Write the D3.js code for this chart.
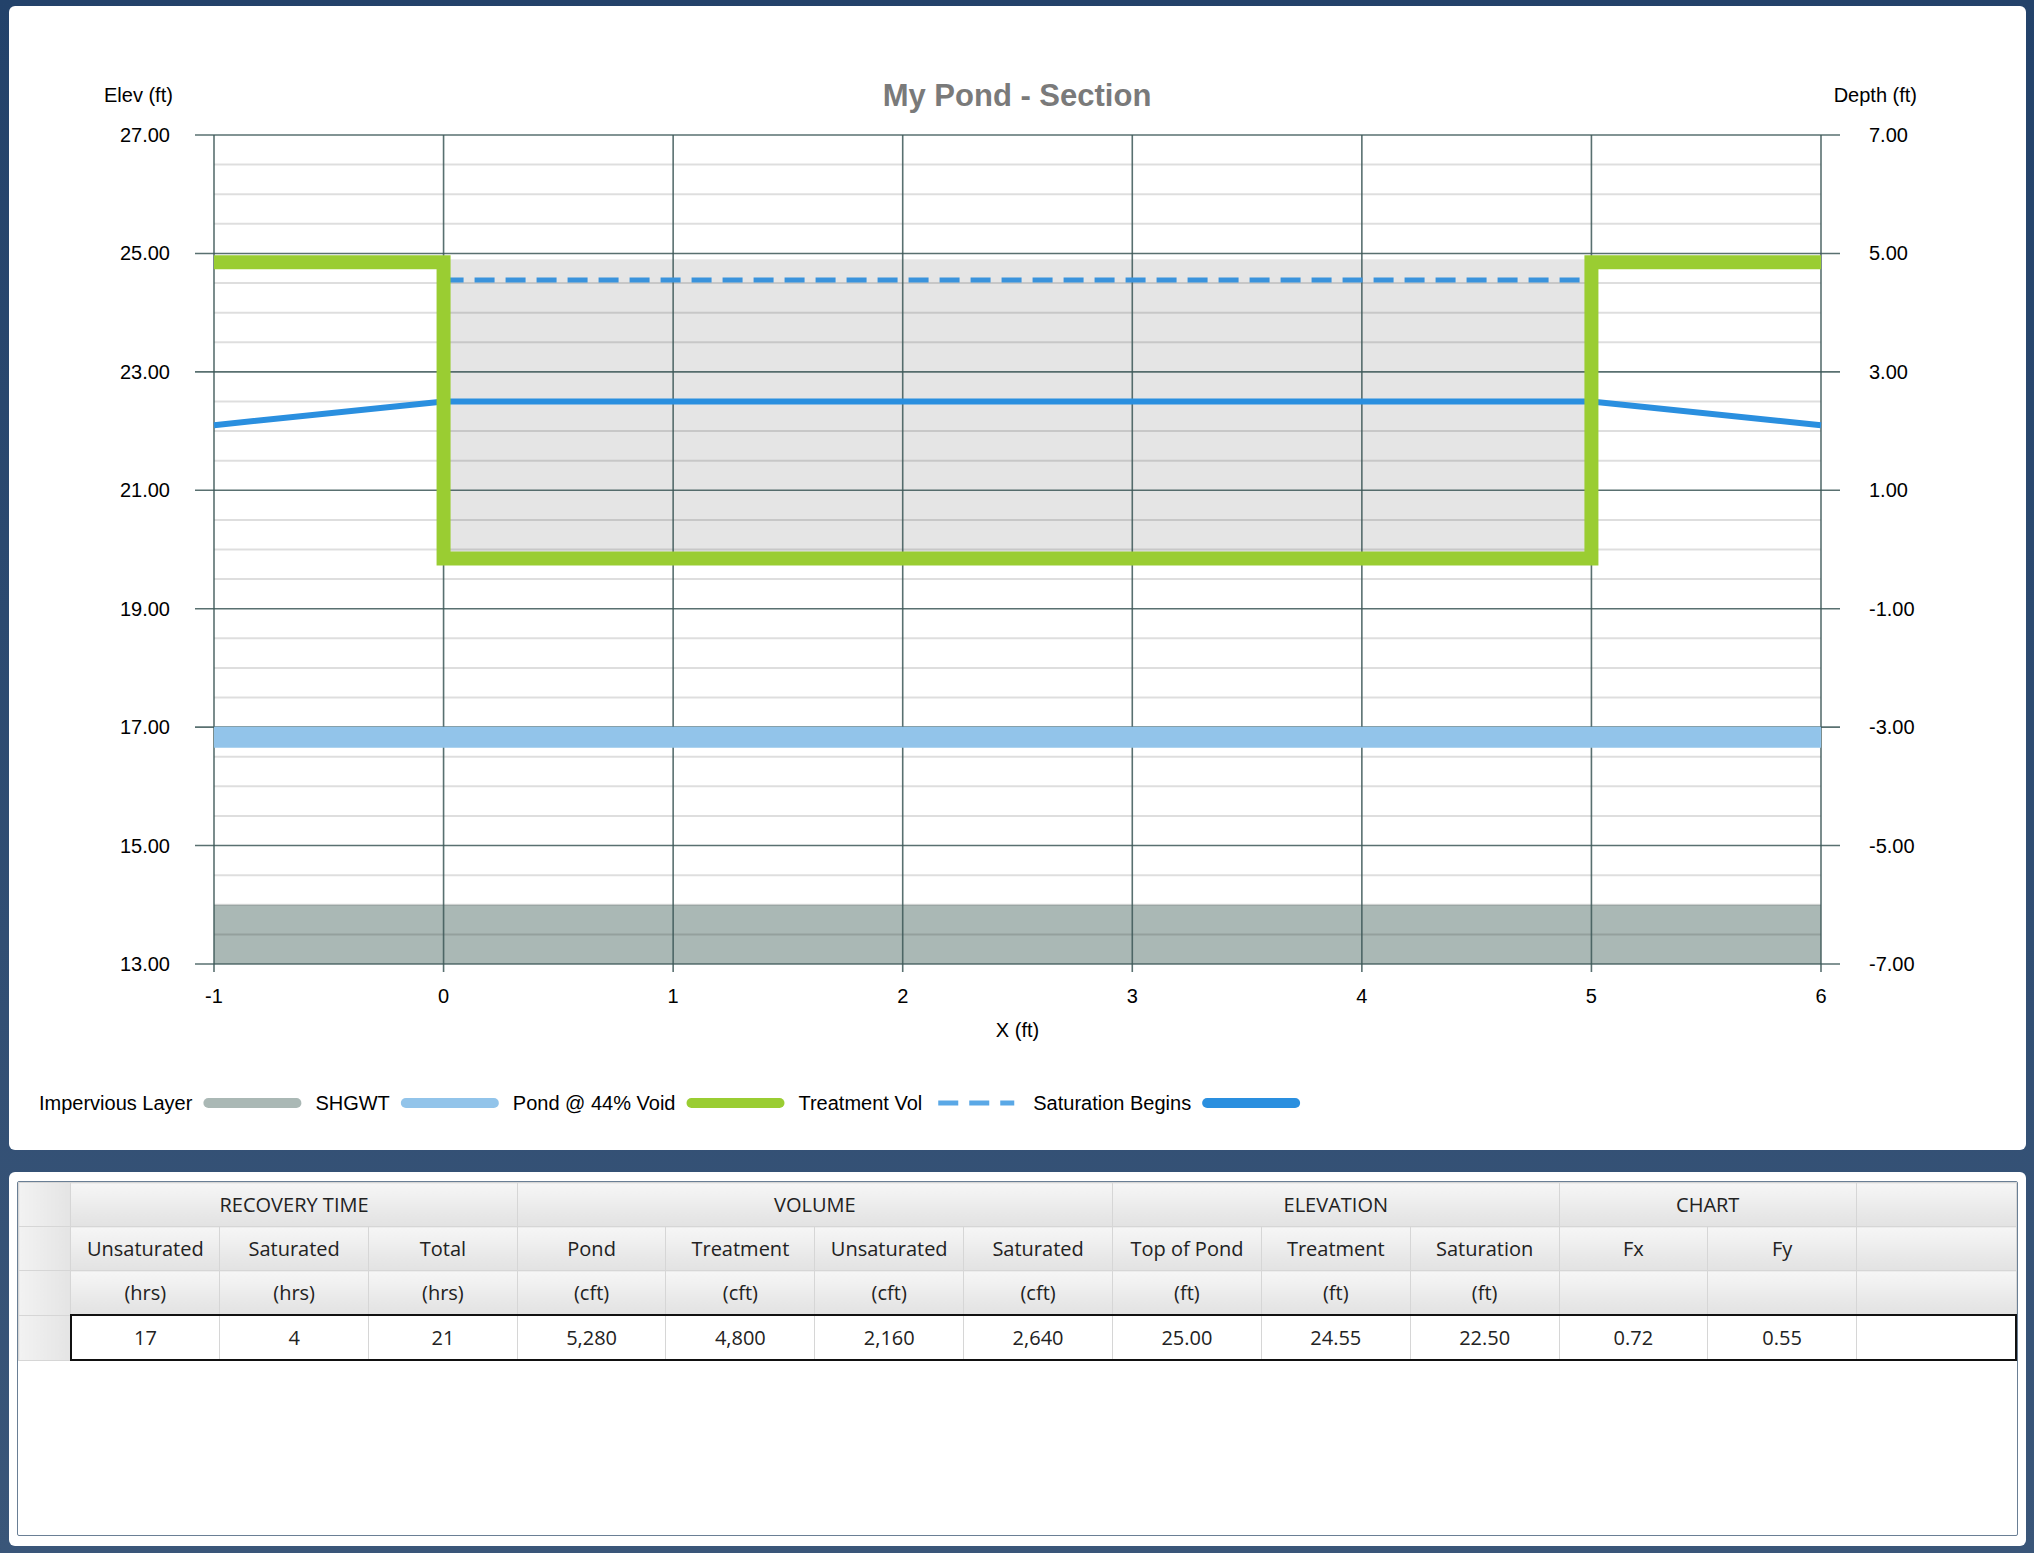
<!DOCTYPE html>
<html><head><meta charset="utf-8">
<script src="https://cdn.jsdelivr.net/npm/d3@7"></script>
<style>
body{margin:0;width:2034px;height:1553px;background:linear-gradient(#23426a,#3a5679);overflow:hidden;font-family:"Liberation Sans",Arial,sans-serif}
#chartPanel{position:absolute;left:9px;top:6px;width:2017px;height:1144px;background:#fff;border-radius:6px}
#tablePanel{position:absolute;left:9px;top:1172px;width:2017px;height:374px;background:#fff;border-radius:6px}
#tableBox{position:absolute;left:8px;top:9px;width:1999px;height:353px;border:1px solid #6a7f95;border-radius:2px}
table{border-collapse:collapse;font-family:"Open Sans","Noto Sans",sans-serif;font-size:20px;color:#222;table-layout:fixed}
td{height:43px;text-align:center;border:1px solid #d6d6d6;padding:0;white-space:nowrap;overflow:hidden}
.hdr td{background:linear-gradient(#f6f6f6,#e2e2e2)}
.sel{background:linear-gradient(90deg,#f2f2f2,#e4e4e4)!important;width:51px}
.data td{background:#fff;border-top:2px solid #111;border-bottom:2px solid #111}
.data td.first{border-left:2px solid #111}
.data td.last{border-right:2px solid #111}
</style></head><body>
<div id="chartPanel"><svg id="chart" width="2017" height="1144"></svg></div>
<div id="tablePanel"><div id="tableBox"><table id="tbl"></table></div></div>
<script>
const xTicks = [-1, 0, 1, 2, 3, 4, 5, 6]
const elevTicks = [13, 15, 17, 19, 21, 23, 25, 27]
const depthOffset = 20
const pondX = [-1, 0, 0, 5, 5, 6]
const pondY = [24.85, 24.85, 19.85, 19.85, 24.85, 24.85]
const pondFill = [0, 5, 19.85, 24.9]
const treatX = [0, 5]
const treatY = [24.55, 24.55]
const satX = [-1, 0, 5, 6]
const satY = [22.1, 22.5, 22.5, 22.1]
const shgwtY = 16.83
const imperv = [13, 14]
const legendItems = ["Impervious Layer", "SHGWT", "Pond @ 44% Void", "Treatment Vol", "Saturation Begins"]
const legendColors = ["#aab8b5", "#92c4ea", "#9acd32", "#5aa8e6", "#2a8fdf"]

const groups = [["RECOVERY TIME", 3], ["VOLUME", 4], ["ELEVATION", 3], ["CHART", 2]]
const colNames = ["Unsaturated", "Saturated", "Total", "Pond", "Treatment", "Unsaturated", "Saturated", "Top of Pond", "Treatment", "Saturation", "Fx", "Fy"]
const colUnits = ["(hrs)", "(hrs)", "(hrs)", "(cft)", "(cft)", "(cft)", "(cft)", "(ft)", "(ft)", "(ft)", "", ""]
const rowValues = ["17", "4", "21", "5,280", "4,800", "2,160", "2,640", "25.00", "24.55", "22.50", "0.72", "0.55"]

const svg = d3.select("#chart")
const ox = -9, oy = -6
const x = d3.scaleLinear().domain([-1, 6]).range([214 + ox, 1821 + ox])
const y = d3.scaleLinear().domain([13, 27]).range([964 + oy, 135 + oy])
const yR = d3.scaleLinear().domain([13 - depthOffset, 27 - depthOffset]).range(y.range())
const g = svg.append("g")

// fills
g.append("rect").attr("x", x(pondFill[0])).attr("width", x(pondFill[1]) - x(pondFill[0]))
  .attr("y", y(pondFill[3])).attr("height", y(pondFill[2]) - y(pondFill[3])).attr("fill", "#e5e5e5")
g.append("rect").attr("x", x(-1)).attr("width", x(6) - x(-1))
  .attr("y", y(imperv[1])).attr("height", y(imperv[0]) - y(imperv[1])).attr("fill", "#aab8b5")

// minor grid
g.selectAll(".minor").data(d3.range(13.5, 27, 0.5).filter(v => v % 2 !== 1)).join("line")
  .attr("x1", x(-1)).attr("x2", x(6)).attr("y1", d => y(d)).attr("y2", d => y(d))
  .attr("stroke", "rgba(0,0,0,0.13)").attr("stroke-width", 2)
// major grid
g.selectAll(".major").data(elevTicks).join("line")
  .attr("x1", x(-1) - 19).attr("x2", x(6) + 19).attr("y1", d => y(d)).attr("y2", d => y(d))
  .attr("stroke", "#3d5858").attr("stroke-width", 1.6).attr("opacity", 0.85)
g.selectAll(".vert").data(xTicks).join("line")
  .attr("x1", d => x(d)).attr("x2", d => x(d)).attr("y1", y(27)).attr("y2", y(13) + 8)
  .attr("stroke", "#3d5858").attr("stroke-width", 1.6).attr("opacity", 0.85)

// SHGWT
g.append("line").attr("x1", x(-1)).attr("x2", x(6)).attr("y1", y(shgwtY)).attr("y2", y(shgwtY))
  .attr("stroke", "#92c4ea").attr("stroke-width", 21)

const line = d3.line().x(d => x(d[0])).y(d => y(d[1]))
g.append("path").attr("d", line(satX.map((v, i) => [v, satY[i]])))
  .attr("fill", "none").attr("stroke", "#2a8fdf").attr("stroke-width", 6)
g.append("path").attr("d", line(treatX.map((v, i) => [v, treatY[i]])))
  .attr("fill", "none").attr("stroke", "#3a93dc").attr("stroke-width", 5).attr("stroke-dasharray", "20,11")
g.append("path").attr("d", line(pondX.map((v, i) => [v, pondY[i]])))
  .attr("fill", "none").attr("stroke", "#9acd32").attr("stroke-width", 14).attr("stroke-linejoin", "miter")

// labels
const tf = 20
g.selectAll(".yl").data(elevTicks).join("text").attr("x", 170 + ox).attr("y", d => y(d) + 7)
  .attr("text-anchor", "end").attr("font-size", tf).text(d => d.toFixed(2))
g.selectAll(".yr").data(elevTicks).join("text").attr("x", 1869 + ox).attr("y", d => y(d) + 7)
  .attr("font-size", tf).text(d => (d - depthOffset).toFixed(2))
g.selectAll(".xl").data(xTicks).join("text").attr("x", d => x(d)).attr("y", 1003 + oy)
  .attr("text-anchor", "middle").attr("font-size", tf).text(d => d)
g.append("text").attr("x", x(2.5)).attr("y", 1037 + oy).attr("text-anchor", "middle").attr("font-size", tf).text("X (ft)")
g.append("text").attr("x", 104 + ox).attr("y", 102 + oy).attr("font-size", tf).text("Elev (ft)")
g.append("text").attr("x", 1917 + ox).attr("y", 102 + oy).attr("text-anchor", "end").attr("font-size", tf).text("Depth (ft)")
g.append("text").attr("x", 1017 + ox).attr("y", 106 + oy).attr("text-anchor", "middle")
  .attr("font-size", 31).attr("font-weight", "bold").attr("fill", "#7a7a7a").text("My Pond - Section")

// legend
let lx = 39 + ox
const ly = 1103 + oy
legendItems.forEach((name, i) => {
  const t = g.append("text").attr("x", lx).attr("y", ly + 7).attr("font-size", tf).text(name)
  lx += t.node().getComputedTextLength() + 11
  const w = i === 3 ? 86 : 98
  g.append("line").attr("x1", lx + 5).attr("x2", lx + w - 5).attr("y1", ly).attr("y2", ly)
    .attr("stroke", legendColors[i]).attr("stroke-width", i === 3 ? 5 : 10)
    .attr("stroke-linecap", i === 3 ? "butt" : "round").attr("stroke-dasharray", i === 3 ? "20,11" : null)
  lx += w + 14
})

// table
const tbl = d3.select("#tbl")
const colgroup = tbl.append("colgroup")
colgroup.append("col").style("width", "52px")
colNames.forEach(() => colgroup.append("col").style("width", "149px"))
colgroup.append("col").style("width", "160px")
const r1 = tbl.append("tr").attr("class", "hdr")
r1.append("td").attr("class", "sel")
groups.forEach(([n, s]) => r1.append("td").attr("colspan", s).text(n))
r1.append("td")
const r2 = tbl.append("tr").attr("class", "hdr")
r2.append("td").attr("class", "sel")
colNames.forEach(n => r2.append("td").text(n))
r2.append("td")
const r3 = tbl.append("tr").attr("class", "hdr")
r3.append("td").attr("class", "sel")
colUnits.forEach(n => r3.append("td").text(n))
r3.append("td")
const r4 = tbl.append("tr").attr("class", "data")
r4.append("td").attr("class", "sel").style("border-top", "1px solid #d6d6d6").style("border-bottom", "1px solid #d6d6d6")
rowValues.forEach((n, i) => r4.append("td").attr("class", i === 0 ? "first" : "").text(n))
r4.append("td").attr("class", "last")
</script>
</body></html>
